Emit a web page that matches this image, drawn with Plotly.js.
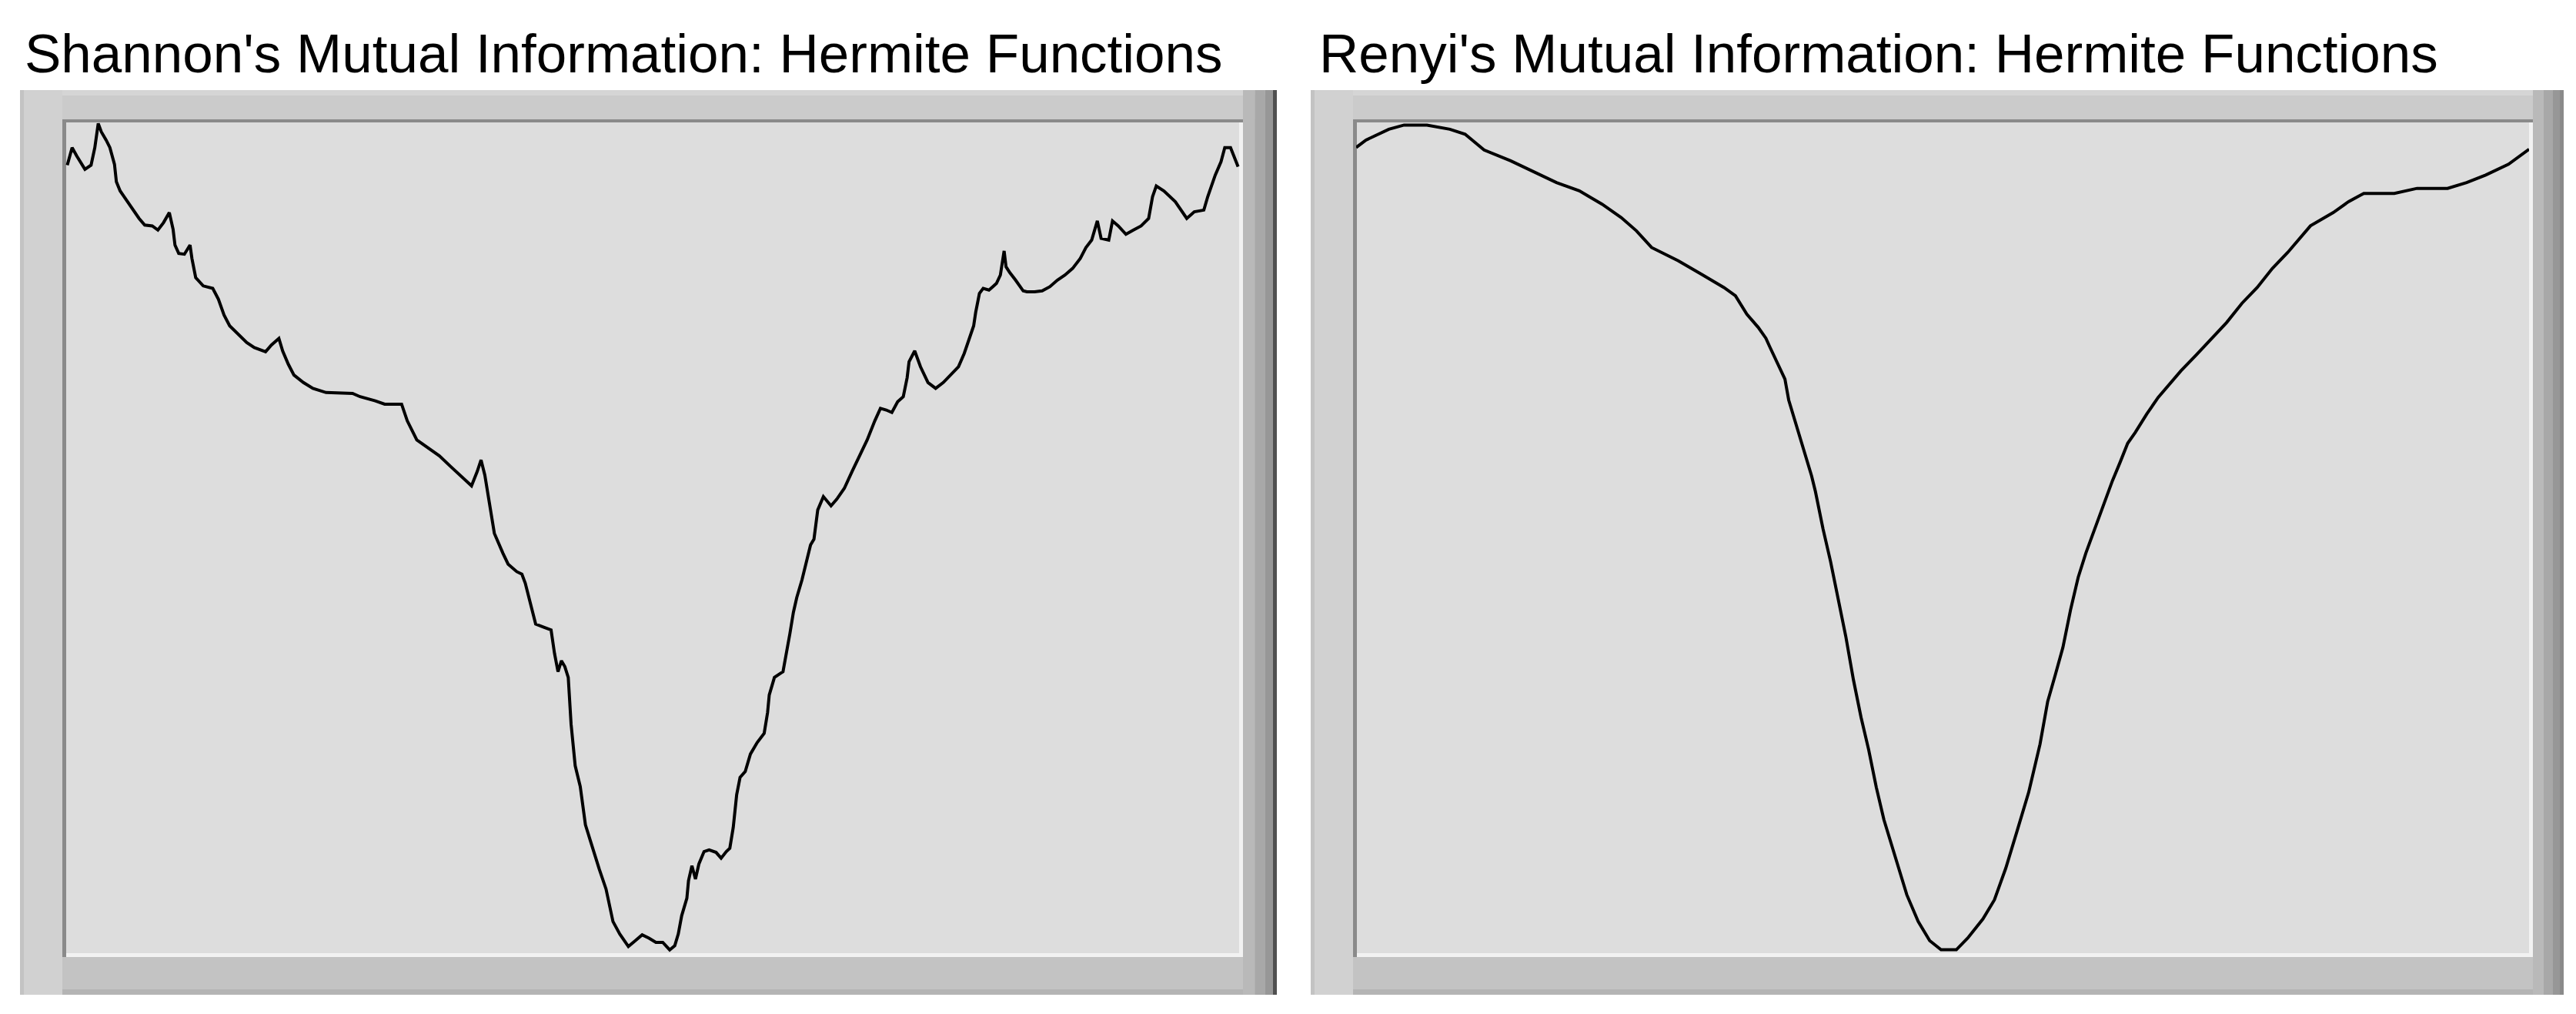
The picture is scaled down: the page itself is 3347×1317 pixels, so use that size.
<!DOCTYPE html>
<html>
<head>
<meta charset="utf-8">
<script src="https://cdn.plot.ly/plotly-3.0.1.min.js"></script>
<style>html,body{margin:0;padding:0;background:#fff;}#chart{width:3347px;height:1317px;}</style>
</head>
<body>
<div id="chart"></div>
<script>
// ---- data (arbitrary units: x = position along sweep 0..100, y = normalised MI 0..1) ----
const shannonTitle = "Shannon's Mutual Information: Hermite Functions";
const renyiTitle = "Renyi's Mutual Information: Hermite Functions";

const shannonX = [0.29,0.70,1.09,1.79,2.31,2.63,2.92,3.18,3.59,3.91,4.30,4.46,4.78,5.26,5.74,6.39,6.87,7.51,7.99,8.47,8.96,9.28,9.44,9.76,10.24,10.72,10.88,11.20,11.84,12.65,13.13,13.61,14.09,14.58,15.54,16.18,17.14,17.63,18.27,18.59,19.07,19.55,20.35,21.16,22.28,24.53,25.17,26.46,27.26,28.70,29.18,29.99,30.63,31.91,32.88,33.84,34.64,35.12,35.45,35.77,36.09,
36.58,37.31,37.75,38.48,38.92,39.21,39.65,40.09,40.82,41.40,41.69,41.99,42.28,42.57,42.86,43.10,43.45,43.88,44.32,44.91,45.49,46.07,46.66,47.24,47.97,48.56,49.14,49.72,50.31,50.89,51.48,51.91,52.21,52.50,52.94,53.08,53.37,53.67,53.96,54.40,54.83,55.42,55.85,56.29,56.59,56.88,57.17,57.46,57.90,58.34,58.92,59.51,59.80,59.94,60.38,61.11,61.40,61.70,61.99,62.28,62.72,63.01,63.45,
63.74,64.06,64.54,65.19,65.68,66.32,66.97,67.61,68.26,68.91,69.39,69.88,70.36,70.85,71.33,71.66,71.82,72.30,72.79,73.43,74.08,74.73,75.37,76.02,76.51,76.99,77.31,77.48,77.80,78.12,78.61,78.93,79.25,79.58,79.90,80.06,80.38,80.87,81.52,81.84,82.49,83.13,83.78,84.43,85.07,85.72,86.37,86.85,87.34,87.82,88.14,88.79,89.11,89.60,90.25,90.89,91.54,92.18,92.51,92.83,93.48,94.45,95.42,96.06,96.87,97.20,97.84,98.33,98.65,99.14,99.78];
const shannonY = [0.946,0.967,0.957,0.941,0.946,0.967,0.996,0.986,0.976,0.967,0.947,0.926,0.915,0.905,0.895,0.882,0.874,0.873,0.868,0.877,0.889,0.869,0.850,0.840,0.839,0.850,0.834,0.811,0.801,0.798,0.785,0.766,0.753,0.746,0.733,0.727,0.722,0.730,0.738,0.723,0.707,0.694,0.685,0.678,0.673,0.672,0.668,0.663,0.659,0.659,0.639,0.616,0.610,0.597,0.584,0.571,0.561,0.578,0.592,0.574,0.548,
0.504,0.480,0.467,0.458,0.455,0.444,0.420,0.395,0.391,0.388,0.360,0.338,0.351,0.344,0.331,0.275,0.225,0.200,0.154,0.126,0.101,0.077,0.038,0.023,0.008,0.015,0.022,0.018,0.013,0.013,0.004,0.009,0.023,0.045,0.066,0.087,0.105,0.089,0.107,0.122,0.124,0.121,0.114,0.122,0.126,0.151,0.190,0.211,0.218,0.239,0.253,0.264,0.289,0.310,0.331,0.338,0.359,0.384,0.409,0.427,0.448,0.466,0.490,
0.497,0.532,0.548,0.537,0.545,0.558,0.578,0.597,0.616,0.639,0.654,0.652,0.649,0.662,0.668,0.691,0.710,0.723,0.704,0.685,0.678,0.685,0.694,0.704,0.720,0.740,0.753,0.769,0.792,0.798,0.796,0.800,0.804,0.814,0.843,0.824,0.817,0.808,0.795,0.794,0.794,0.795,0.800,0.808,0.814,0.822,0.834,0.847,0.856,0.879,0.858,0.856,0.879,0.873,0.863,0.868,0.873,0.882,0.908,0.921,0.915,0.902,0.882,0.890,0.892,0.908,0.934,0.950,0.967,0.967,0.944];

const renyiX = [0,0.84,2.79,4.09,6.04,7.99,9.29,10.91,13.18,15.13,17.08,19.03,20.97,22.60,23.90,25.19,27.47,29.42,31.36,32.34,33.31,34.29,34.94,35.26,35.91,36.56,36.88,37.53,38.18,38.83,39.16,39.81,40.45,41.10,41.75,42.40,43.05,43.70,44.35,45.00,45.97,46.95,47.92,48.90,49.87,51.17,52.14,53.44,54.42,55.39,56.36,57.34,58.31,58.96,59.61,60.26,60.91,61.56,62.21,62.86,63.83,64.48,65.13,65.78,66.43,67.40,68.38,69.35,70.32,71.62,72.92,74.22,75.52,76.82,78.12,79.42,81.36,83.31,84.61,85.91,88.51,90.45,93.05,94.68,96.30,98.25,100];
const renyiY = [0.968,0.977,0.990,0.995,0.995,0.990,0.984,0.965,0.952,0.939,0.926,0.916,0.900,0.884,0.868,0.848,0.832,0.816,0.800,0.790,0.768,0.752,0.739,0.729,0.710,0.690,0.665,0.635,0.606,0.574,0.555,0.510,0.471,0.426,0.381,0.329,0.284,0.245,0.200,0.161,0.116,0.071,0.039,0.016,0.005,0.005,0.019,0.042,0.065,0.103,0.148,0.194,0.252,0.303,0.335,0.368,0.413,0.452,0.481,0.506,0.542,0.568,0.590,0.613,0.626,0.648,0.668,0.684,0.700,0.719,0.739,0.758,0.781,0.800,0.823,0.842,0.874,0.890,0.903,0.913,0.913,0.919,0.919,0.926,0.935,0.948,0.966];

// ---- layout helpers (pixel -> paper) ----
const W = 3347, H = 1317;
function px(x){ return x / W; }
function py(y){ return 1 - y / H; }
function rect(x0, y0, x1, y1, color){
  return {type:'rect', xref:'paper', yref:'paper', layer:'below',
    x0:px(x0), x1:px(x1), y0:py(y1), y1:py(y0), fillcolor:color, line:{width:0}};
}
function panel(ox0, ix0, ix1, ox1, darkEdge){
  const top = 117, bot = 1292, it = 159, ib = 1238;
  const s = [];
  s.push(rect(ox0, top, ox1, bot, '#c6c6c6'));
  s.push(rect(ox0, top, ox1, it - 4, '#cbcbcb'));
  s.push(rect(ox0, top, ox1, top + 7, '#d5d5d5'));
  s.push(rect(ox0, top, ix0 - 5, bot, '#d1d1d1'));
  s.push(rect(ox0, top, ox0 + 5, bot, '#c3c3c3'));
  s.push(rect(ix0 - 5, ib + 5, ix1 + 5, bot, '#c3c3c3'));
  s.push(rect(ix0 - 5, bot - 7, ix1 + 5, bot, '#b4b4b4'));
  const rb = ix1 + 5, rw = ox1 - rb;
  s.push(rect(rb, top, rb + rw * 0.35, bot, '#b9b9b9'));
  s.push(rect(rb + rw * 0.35, top, rb + rw * 0.65, bot, '#a8a8a8'));
  s.push(rect(rb + rw * 0.65, top, ox1, bot, '#979797'));
  s.push(rect(ox1 - 5, top, ox1, bot, darkEdge ? '#505050' : '#8a8a8a'));
  s.push(rect(ix0 - 5, it - 4, ix1 + 5, it, '#8a8a8a'));
  s.push(rect(ix0 - 5, it - 4, ix0, ib + 5, '#8a8a8a'));
  s.push(rect(ix1, it, ix1 + 5, ib + 5, '#f2f2f2'));
  s.push(rect(ix0, ib, ix1 + 5, ib + 5, '#f2f2f2'));
  s.push(rect(ix0, it, ix1, ib, '#dddddd'));
  return s;
}

const shapes = [].concat(panel(26, 86, 1610, 1659, true), panel(1703, 1763, 3286, 3331, false));

const lineStyle = {color:'#000000', width:4};
const traces = [
  {x: shannonX, y: shannonY, type:'scatter', mode:'lines', line: lineStyle, xaxis:'x', yaxis:'y', hoverinfo:'skip'},
  {x: renyiX, y: renyiY, type:'scatter', mode:'lines', line: lineStyle, xaxis:'x2', yaxis:'y2', hoverinfo:'skip'}
];

const axisBase = {showgrid:false, zeroline:false, showline:false, showticklabels:false, ticks:'', fixedrange:true};
const layout = {
  width: W, height: H,
  margin:{l:0, r:0, t:0, b:0, pad:0},
  paper_bgcolor:'#ffffff', plot_bgcolor:'rgba(0,0,0,0)',
  showlegend:false,
  xaxis: Object.assign({}, axisBase, {domain:[px(83), px(1612)], range:[0,100]}),
  yaxis: Object.assign({}, axisBase, {domain:[py(1238), py(156)], range:[0,1]}),
  xaxis2: Object.assign({}, axisBase, {domain:[px(1762), px(3286)], range:[0,100], anchor:'y2'}),
  yaxis2: Object.assign({}, axisBase, {domain:[py(1239), py(157)], range:[0,1], anchor:'x2'}),
  shapes: shapes,
  annotations: [
    {text: shannonTitle, xref:'paper', yref:'paper', x:px(30), y:py(70), xanchor:'left', yanchor:'middle', showarrow:false,
     font:{family:'Liberation Sans, Arial, sans-serif', size:71, color:'#000000'}},
    {text: renyiTitle, xref:'paper', yref:'paper', x:px(1712), y:py(70), xanchor:'left', yanchor:'middle', showarrow:false,
     font:{family:'Liberation Sans, Arial, sans-serif', size:71, color:'#000000'}}
  ]
};

Plotly.newPlot('chart', traces, layout, {staticPlot:true, displayModeBar:false});
</script>
</body>
</html>
